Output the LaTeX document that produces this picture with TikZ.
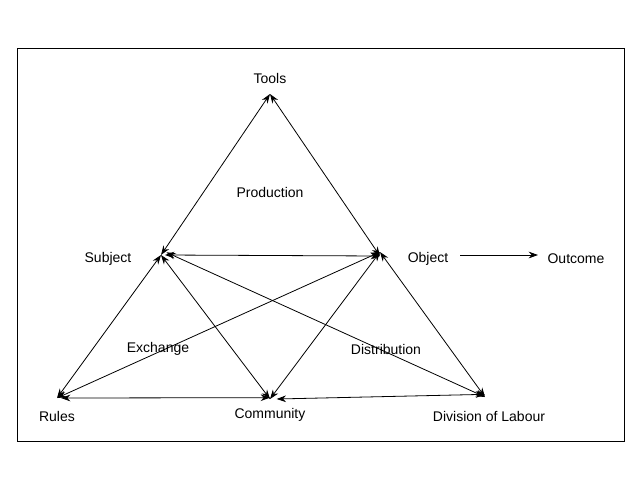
\documentclass[tikz,border=0pt]{standalone}
\usepackage{fontspec}
\setmainfont{Liberation Sans}
\usetikzlibrary{arrows.meta}
\begin{document}
\begin{tikzpicture}[x=0.75pt,y=-0.75pt,
  lbl/.style={font=\fontsize{10.5}{12}\selectfont},
  conn/.style={{Stealth[length=7pt,width=5pt]}-{Stealth[length=7pt,width=5pt]},line width=0.6pt},
  one/.style={-{Stealth[length=7pt,width=5pt]},line width=0.6pt}]
\useasboundingbox (0,0) rectangle (640,480);
\draw[line width=0.6pt] (17,48) rectangle (624,441);
\node[lbl] (tools) at (270,78) {Tools};
\node[lbl] (subject) at (108,259) {Subject};
\node[lbl] (object) at (428,259) {Object};
\node[lbl] (outcome) at (576,259) {Outcome};
\node[lbl] (rules) at (57,416) {Rules};
\node[lbl] (community) at (270,415) {Community};
\node[lbl] (division) at (489,416) {Division of Labour};
\node[lbl] (production) at (270,192) {Production};
\node[lbl] (exchange) at (158,349) {Exchange};
\node[lbl] (distribution) at (386,349) {Distribution};
\coordinate (T) at (270,94);
\coordinate (S) at (161,255);
\coordinate (O) at (380,256);
\coordinate (R) at (57,398);
\coordinate (C) at (270,399);
\coordinate (D) at (485,397);
\coordinate (oa) at (460,255);
\coordinate (ob) at (538,255);
\draw[conn] (T) -- (S);
\draw[conn] (T) -- (O);
\draw[conn] ([xshift=3]S) -- (O);
\draw[conn] (S) -- (R);
\draw[conn] (S) -- (C);
\draw[conn] ([xshift=4,yshift=2]S) -- (D);
\draw[conn] ([yshift=3]O) -- (R);
\draw[conn] ([yshift=3]O) -- (C);
\draw[conn] ([yshift=3]O) -- (D);
\draw[conn] ([xshift=3]R) -- ([yshift=1]C);
\draw[conn] ([xshift=5]C) -- ([yshift=2]D);
\draw[one] (oa) -- (ob);
\end{tikzpicture}
\end{document}
